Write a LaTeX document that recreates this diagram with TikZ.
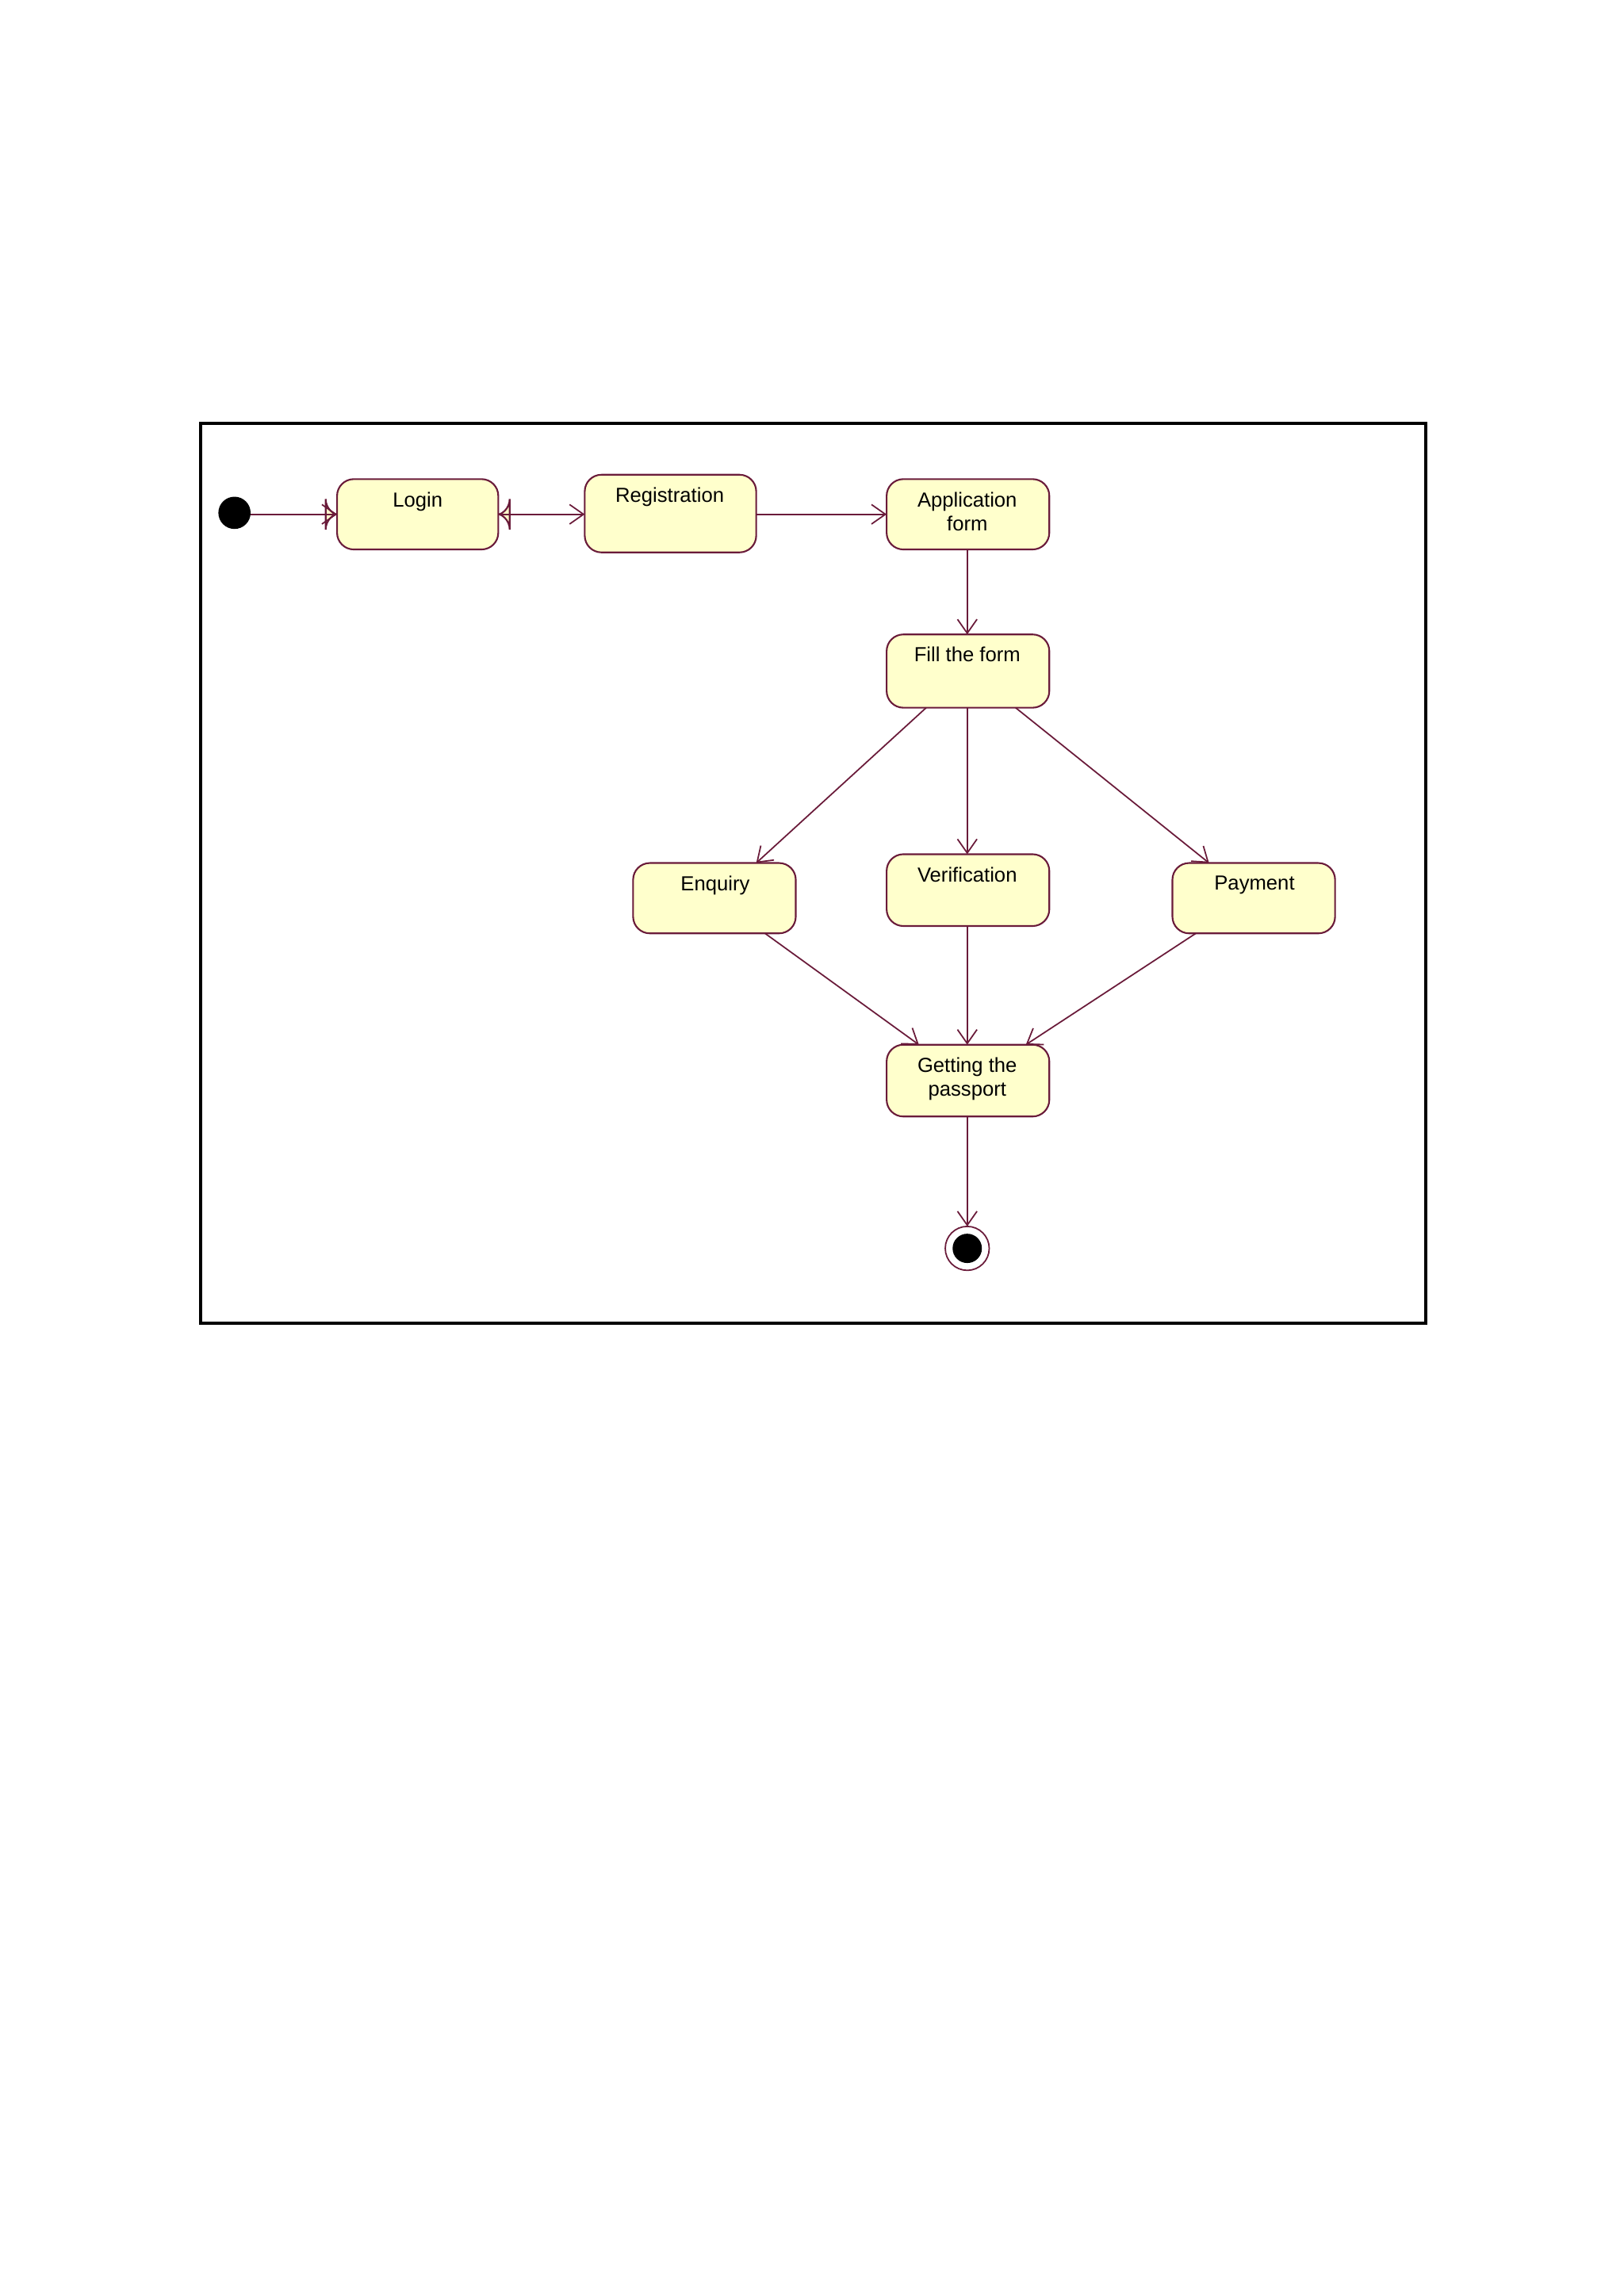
\documentclass[tikz,border=0pt]{standalone}
\usepackage{fontspec}
\setmainfont{Liberation Sans}
\usetikzlibrary{arrows.meta,calc}
\definecolor{boxfill}{HTML}{FFFFCC}
\definecolor{edge}{HTML}{6A1B3A}
\begin{document}
\begin{tikzpicture}[x=0.018484cm,y=-0.018484cm,
  st/.style={draw=edge,fill=boxfill,rounded corners=6pt,line width=0.6pt,inner sep=0pt},
  lab/.style={font=\fontsize{7.3}{8.6}\selectfont,align=center},
  tr/.style={draw=edge,line width=0.5pt,-{Straight Barb[length=5pt,width=7pt]}}]
\useasboundingbox (0,0) rectangle (1108,1567);
\fill[white] (0,0) rectangle (1108,1567);
\draw[line width=1.2pt] (137,289) rectangle (973,903);
\fill (160,350) circle (11) node (init) {};
\coordinate (initE) at (171,351);
\node[st,minimum width=110\pgflinewidth] (login) at (285,351) {};
\path[st] (230,327) rectangle (340,375);
\coordinate (loginW) at (230,351); \coordinate (loginE) at (340,351);
\node[lab,anchor=north] (tlogin) at (285,329) {Login};
\path[st] (399,324) rectangle (516,377);
\coordinate (regW) at (399,351); \coordinate (regE) at (516,351);
\node[lab,anchor=north] (treg) at (457,326) {Registration};
\path[st] (605,327) rectangle (716,375);
\coordinate (appW) at (605,351); \coordinate (appS) at (660,375);
\node[lab,anchor=north] (tapp) at (660,329) {Application\\form};
\path[st] (605,433) rectangle (716,483);
\coordinate (fillN) at (660,433); \coordinate (fillS) at (660,483);
\coordinate (fillSL) at (632,483); \coordinate (fillSR) at (693,483);
\node[lab,anchor=north] (tfill) at (660,435) {Fill the form};
\path[st] (432,589) rectangle (543,637);
\coordinate (enqN) at (516,589); \coordinate (enqS) at (522,637);
\node[lab,anchor=north] (tenq) at (488,591) {Enquiry};
\path[st] (605,583) rectangle (716,632);
\coordinate (verN) at (660,583); \coordinate (verS) at (660,632);
\node[lab,anchor=north] (tver) at (660,585) {Verification};
\path[st] (800,589) rectangle (911,637);
\coordinate (payN) at (825,589); \coordinate (payS) at (816,637);
\node[lab,anchor=north] (tpay) at (856,591) {Payment};
\path[st] (605,713) rectangle (716,762);
\coordinate (getNL) at (627,713); \coordinate (getN) at (660,713);
\coordinate (getNR) at (700,713); \coordinate (getS) at (660,762);
\node[lab,anchor=north] (tget) at (660,715) {Getting the\\passport};
\draw[edge,line width=0.5pt,fill=white] (660,852) circle (15);
\fill (660,852) circle (10);
\coordinate (finN) at (660,837);
\draw[tr] (initE) -- (loginW);
\draw[tr] (loginE) -- (regW);
\draw[tr] (regE) -- (appW);
\draw[tr] (appS) -- (fillN);
\draw[tr] (fillSL) -- (enqN);
\draw[tr] (fillS) -- (verN);
\draw[tr] (fillSR) -- (payN);
\draw[tr] (enqS) -- (getNL);
\draw[tr] (verS) -- (getN);
\draw[tr] (payS) -- (getNR);
\draw[tr] (getS) -- (finN);
\end{tikzpicture}
\end{document}
